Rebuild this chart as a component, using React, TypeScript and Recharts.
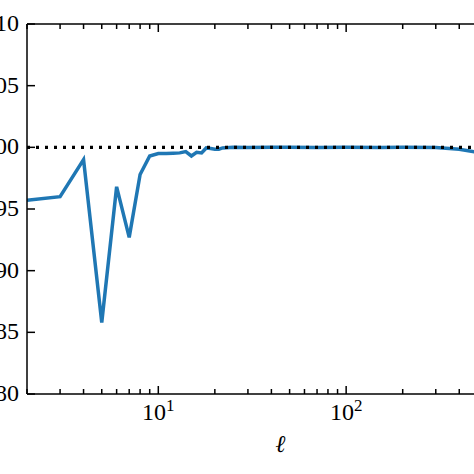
import React from 'react';
import { LineChart, Line, XAxis, YAxis, ReferenceLine } from 'recharts';

// multipole ell and the ratio
const ells = [2, 3, 4, 5, 6, 7, 8, 9, 10, 11, 12, 13, 14, 15, 16, 17, 18, 19, 20, 21, 22, 25, 30, 40, 50, 70, 100, 150, 200, 300, 400, 500, 700, 1000];
const ratio = [
  0.9957, 0.996, 0.999, 0.9858, 0.9968, 0.9927, 0.9978, 0.9993, 0.9995, 0.9995,
  0.99952, 0.99955, 0.99965, 0.9993, 0.9996, 0.99955, 0.99995, 0.9999, 0.99985, 0.99985,
  0.99995, 1.0, 0.99998, 1.0, 1.0, 0.99998, 1.0, 0.99998, 1.0, 0.99998,
  0.99985, 0.9996, 0.9992, 0.9985,
];
const refValue = 1.0;

const xMajorTicks = [10, 100, 1000];
const xMinorTicks = [2, 3, 4, 5, 6, 7, 8, 9, 20, 30, 40, 50, 60, 70, 80, 90, 200, 300, 400, 500, 600, 700, 800, 900];
const xTicks = [...xMinorTicks, ...xMajorTicks].sort((a, b) => a - b);
const xExponents: Record<number, string> = { 10: '1', 100: '2', 1000: '3' };
const yTicks = [0.98, 0.985, 0.99, 0.995, 1.0, 1.005, 1.01];

const data = ells.map((l, i) => ({ l, r: ratio[i] }));

const FONT = '"Liberation Serif", "DejaVu Serif", serif';
const AXIS = { stroke: '#000', strokeWidth: 1.5 };

const BottomTick = (props: any) => {
  const { x, y, payload } = props;
  const major = xMajorTicks.includes(payload.value);
  return (
    <g>
      <line x1={x} x2={x} y1={y} y2={y - (major ? 8 : 5)} stroke="#000" strokeWidth={1.5} />
      {major && (
        <text x={x} y={y + 26} textAnchor="middle" fontFamily={FONT} fontSize={24} fill="#000">
          <tspan>10</tspan>
          <tspan dy={-9} fontSize={17}>{xExponents[payload.value]}</tspan>
        </text>
      )}
    </g>
  );
};

const TopTick = (props: any) => {
  const { x, y, payload } = props;
  const major = xMajorTicks.includes(payload.value);
  return <line x1={x} x2={x} y1={y} y2={y + (major ? 8 : 5)} stroke="#000" strokeWidth={1.5} />;
};

const LeftTick = (props: any) => {
  const { x, y, payload } = props;
  return (
    <g>
      <line x1={x} x2={x + 8} y1={y} y2={y} stroke="#000" strokeWidth={1.5} />
      <text x={x - 8} y={y + 7} textAnchor="end" fontFamily={FONT} fontSize={24} fill="#000">
        {Number(payload.value).toFixed(3)}
      </text>
    </g>
  );
};

const RightTick = (props: any) => {
  const { x, y } = props;
  return <line x1={x} x2={x - 8} y1={y} y2={y} stroke="#000" strokeWidth={1.5} />;
};

const App: React.FC = () => {
  return (
    <div style={{ position: 'fixed', left: 0, top: 0, width: 474, height: 474, overflow: 'hidden', background: '#fff' }}>
      <div style={{ position: 'absolute', left: -60, top: 0 }}>
        <LineChart width={620} height={474} data={data} margin={{ top: 23, right: 25, bottom: 0, left: 0 }}>
          <XAxis
            dataKey="l"
            type="number"
            scale="log"
            domain={[2, 1000]}
            ticks={xTicks}
            interval={0}
            allowDataOverflow
            height={80}
            tickSize={0}
            tickMargin={0}
            tickLine={false}
            axisLine={AXIS}
            tick={BottomTick}
            label={{ value: 'ℓ', position: 'insideBottom', offset: 22, style: { fontFamily: FONT, fontStyle: 'italic', fontSize: 24, fill: '#000' } }}
          />
          <XAxis
            xAxisId="top"
            dataKey="l"
            type="number"
            scale="log"
            orientation="top"
            domain={[2, 1000]}
            ticks={xTicks}
            interval={0}
            allowDataOverflow
            height={1}
            tickSize={0}
            tickMargin={0}
            tickLine={false}
            axisLine={AXIS}
            tick={TopTick}
          />
          <YAxis
            type="number"
            domain={[0.98, 1.01]}
            ticks={yTicks}
            interval={0}
            allowDataOverflow
            width={87}
            tickSize={0}
            tickMargin={0}
            tickLine={false}
            axisLine={AXIS}
            tick={LeftTick}
          />
          <YAxis
            yAxisId="right"
            orientation="right"
            type="number"
            domain={[0.98, 1.01]}
            ticks={yTicks}
            interval={0}
            width={1}
            tickSize={0}
            tickMargin={0}
            tickLine={false}
            axisLine={AXIS}
            tick={RightTick}
          />
          <Line
            type="linear"
            dataKey="r"
            stroke="#1f77b4"
            strokeWidth={3.5}
            dot={false}
            isAnimationActive={false}
          />
          <ReferenceLine y={refValue} stroke="#000" strokeWidth={3.2} strokeDasharray="3 6" />
        </LineChart>
      </div>
    </div>
  );
};

export default App;
